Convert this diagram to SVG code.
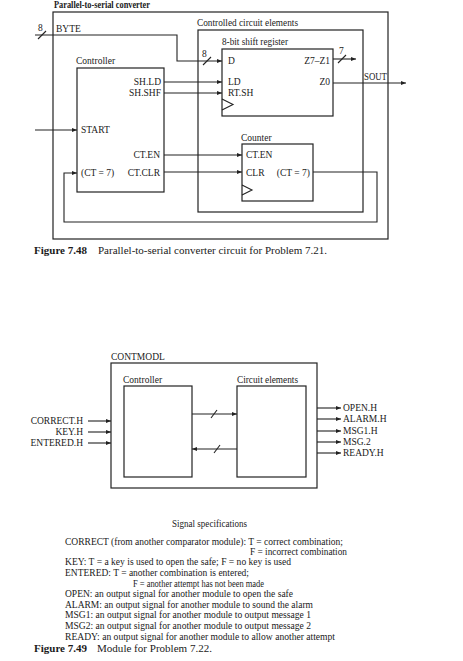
<svg xmlns="http://www.w3.org/2000/svg" width="463" height="661" viewBox="0 0 463 661">
<defs>
<marker id="ah" viewBox="0 0 10 10" refX="10" refY="5" markerWidth="7" markerHeight="5" orient="auto" markerUnits="userSpaceOnUse">
<path d="M0,1 L10,5 L0,9 Z" fill="#222"/>
</marker>
</defs>
<style>
text{font-family:"Liberation Serif","DejaVu Serif",serif;font-size:9.5px;fill:#1a1a1a}
.b{font-weight:bold}
.cap{font-size:11px}
.s{font-size:10px}
.box{fill:none;stroke:#222;stroke-width:1.2}
.w{fill:none;stroke:#222;stroke-width:1.1}
.a{marker-end:url(#ah)}
.r{text-anchor:end}
</style>
<rect width="463" height="661" fill="#fff"/>

<!-- Figure 7.48 -->
<g id="converter">
<rect class="box" x="53" y="12" width="335" height="227"/>
<text x="54" y="8" class="b" textLength="96" lengthAdjust="spacingAndGlyphs">Parallel-to-serial converter</text>
<text x="56" y="32">BYTE</text>
<text x="38" y="31">8</text>
</g>
<g id="controlled-circuit-elements">
<rect class="box" x="198" y="30" width="165" height="182"/>
<text x="197" y="26" textLength="101" lengthAdjust="spacingAndGlyphs">Controlled circuit elements</text>
</g>
<g id="controller">
<rect class="box" x="77" y="68" width="87" height="124"/>
<text x="76" y="64">Controller</text>
<text x="161" y="85" class="r">SH.LD</text>
<text x="161" y="96" class="r">SH.SHF</text>
<text x="81" y="133">START</text>
<text x="160" y="158" class="r">CT.EN</text>
<text x="160" y="176" class="r">CT.CLR</text>
<text x="81" y="176">(CT = 7)</text>
</g>
<g id="shift-register">
<rect class="box" x="222" y="49" width="111" height="67"/>
<text x="222" y="45" textLength="66" lengthAdjust="spacingAndGlyphs">8-bit shift register</text>
<text x="228" y="64">D</text>
<text x="228" y="85">LD</text>
<text x="228" y="96">RT.SH</text>
<text x="330" y="64" class="r">Z7–Z1</text>
<text x="330" y="85" class="r">Z0</text>
<path class="w" d="M222,99 L233,104.5 L222,110"/>
</g>
<g id="counter">
<rect class="box" x="242" y="144" width="71" height="57"/>
<text x="241" y="141">Counter</text>
<text x="246" y="158">CT.EN</text>
<text x="246" y="176">CLR</text>
<text x="310" y="176" class="r">(CT = 7)</text>
<path class="w" d="M242,185 L252,190 L242,195"/>
</g>
<g id="connectors-748">
<path class="w a" d="M35,35 H177 V61 H222"/>
<path class="w" d="M38,39 L46,31"/>
<path class="w" d="M203,65 L211,57"/>
<text x="202" y="57">8</text>
<path class="w a" d="M164,82 H222"/>
<path class="w a" d="M164,93 H222"/>
<path class="w a" d="M333,59 H356"/>
<path class="w" d="M338,63 L346,55"/>
<text x="339" y="54">7</text>
<path class="w a" d="M333,83 H406"/>
<text x="364" y="80" textLength="23" lengthAdjust="spacingAndGlyphs">SOUT</text>
<path class="w a" d="M35,130 H77"/>
<path class="w a" d="M164,155 H242"/>
<path class="w a" d="M164,172 H242"/>
<path class="w a" d="M313,172 H377 V222 H64 V173 H77"/>
</g>
<text x="34" y="254" class="cap"><tspan class="b">Figure 7.48</tspan></text>
<text x="98" y="254" class="cap" textLength="229" lengthAdjust="spacingAndGlyphs">Parallel-to-serial converter circuit for Problem 7.21.</text>

<!-- Figure 7.49 -->
<g id="contmodl">
<rect class="box" x="111" y="363" width="206" height="125"/>
<text x="111" y="360">CONTMODL</text>
</g>
<g id="controller2">
<rect class="box" x="124" y="386" width="68" height="91"/>
<text x="123" y="383">Controller</text>
</g>
<g id="circuit-elements">
<rect class="box" x="237" y="386" width="69" height="91"/>
<text x="237" y="383" textLength="61" lengthAdjust="spacingAndGlyphs">Circuit elements</text>
</g>
<g id="connectors-749">
<path class="w a" d="M192,414 H237"/>
<path class="w" d="M211,418 L217,410"/>
<path class="w a" d="M237,449 H192"/>
<path class="w" d="M214,453 L220,445"/>
<path class="w a" d="M88,421 H111"/>
<path class="w a" d="M88,432 H111"/>
<path class="w a" d="M88,443 H111"/>
<path class="w a" d="M317,408 H341"/>
<path class="w a" d="M317,419 H341"/>
<path class="w a" d="M317,431 H341"/>
<path class="w a" d="M317,442 H341"/>
<path class="w a" d="M317,453 H341"/>
</g>
<g id="io-labels">
<text x="83" y="424" class="r">CORRECT.H</text>
<text x="83" y="435" class="r">KEY.H</text>
<text x="83" y="446" class="r">ENTERED.H</text>
<text x="343" y="411">OPEN.H</text>
<text x="343" y="422">ALARM.H</text>
<text x="343" y="434">MSG1.H</text>
<text x="343" y="445">MSG.2</text>
<text x="343" y="456">READY.H</text>
</g>
<g id="specs">
<text x="172" y="527" class="s" textLength="75" lengthAdjust="spacingAndGlyphs">Signal specifications</text>
<text x="65" y="545" class="s" textLength="278" lengthAdjust="spacingAndGlyphs">CORRECT (from another comparator module):  T = correct combination;</text>
<text x="250" y="555" class="s" textLength="97" lengthAdjust="spacingAndGlyphs">F = incorrect combination</text>
<text x="65" y="565" class="s" textLength="226" lengthAdjust="spacingAndGlyphs">KEY:  T = a key is used to open the safe;  F = no key is used</text>
<text x="65" y="576" class="s" textLength="184" lengthAdjust="spacingAndGlyphs">ENTERED:  T = another combination is entered;</text>
<text x="133" y="587" class="s" textLength="131" lengthAdjust="spacingAndGlyphs">F = another attempt has not been made</text>
<text x="65" y="597" class="s" textLength="228" lengthAdjust="spacingAndGlyphs">OPEN:  an output signal for another module to open the safe</text>
<text x="65" y="608" class="s" textLength="248" lengthAdjust="spacingAndGlyphs">ALARM:  an output signal for another module to sound the alarm</text>
<text x="65" y="618" class="s" textLength="246" lengthAdjust="spacingAndGlyphs">MSG1:  an output signal for another module to output message 1</text>
<text x="65" y="629" class="s" textLength="246" lengthAdjust="spacingAndGlyphs">MSG2:  an output signal for another module to output message 2</text>
<text x="65" y="640" class="s" textLength="270" lengthAdjust="spacingAndGlyphs">READY:  an output signal for another module to allow another attempt</text>
</g>
<text x="34" y="652" class="cap"><tspan class="b">Figure 7.49</tspan></text>
<text x="97" y="652" class="cap" textLength="115" lengthAdjust="spacingAndGlyphs">Module for Problem 7.22.</text>
</svg>
